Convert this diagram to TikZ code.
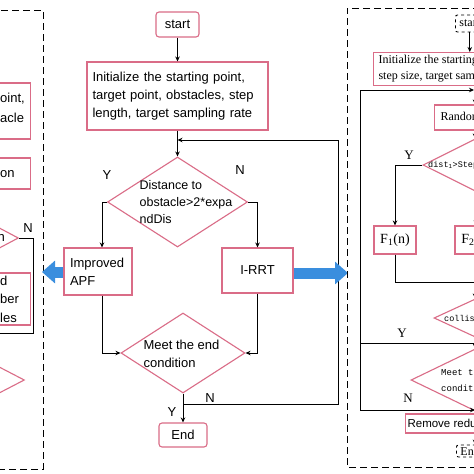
\documentclass[tikz,border=0pt]{standalone}
\usepackage{fontspec}
\setmainfont{Liberation Serif}
\setsansfont{Liberation Sans}
\setmonofont{Liberation Mono}
\usepackage{tikz}
\usetikzlibrary{arrows.meta,calc,shapes.geometric,positioning}
\tikzset{>={Stealth[length=5pt,width=4.5pt]}}
\definecolor{boxred}{RGB}{218,108,135}
\definecolor{flowblue}{RGB}{58,142,222}
\tikzset{
  pbox/.style={draw=boxred, line width=1.1pt, fill=white, inner sep=0pt, font=\sffamily\fontsize{13pt}{18pt}\selectfont},
  pdec/.style={diamond, draw=boxred, line width=1.1pt, inner sep=0pt},
  sbox/.style={draw=boxred, line width=1.1pt, inner sep=0pt, font=\fontsize{12pt}{16pt}\selectfont},
  ebox/.style={draw=black, dashed, rounded corners=2pt, line width=0.9pt, inner sep=0pt, font=\fontsize{12pt}{14pt}\selectfont},
  panel/.style={draw=black, line width=1pt, dash pattern=on 7pt off 4pt},
  flow/.style={draw=black, line width=1pt},
  yn/.style={inner sep=0pt, font=\sffamily\fontsize{13pt}{13pt}\selectfont},
  ryn/.style={inner sep=0pt, font=\fontsize{13pt}{13pt}\selectfont},
  txt/.style={inner sep=0pt, align=left},
  fat/.style={flowblue, line width=11pt, -{Triangle[length=13pt,width=22pt]}}
}
\begin{document}
\begin{tikzpicture}[x=1pt,y=-1pt]
\useasboundingbox (0,0) rectangle (474,474);
\fill[white] (0,0) rectangle (474,474);
\clip (0,0) rectangle (474,474);

% left panel, cut off by the frame
\draw[panel] (-10,10) -| (43,469) -- (-10,469);
\node[pbox, minimum width=120pt, minimum height=56pt, anchor=east] (linit) at (31,111) {};
\node[txt, anchor=west, font=\sffamily\fontsize{13pt}{20pt}\selectfont] (linittxt) at (0,108) {oint,\\acle};
\node[pbox, minimum width=120pt, minimum height=31pt, anchor=east] (lset) at (31,173.5) {};
\node[txt, anchor=west, font=\sffamily\fontsize{13pt}{13pt}\selectfont] (lsettxt) at (0,174) {on};
\node[pdec, minimum width=94pt, minimum height=50pt, anchor=east] (lcheck) at (19,238) {};
\node[txt, anchor=east, font=\sffamily\fontsize{13pt}{13pt}\selectfont] (lchecktxt) at (5,238) {n};
\node[pbox, minimum width=120pt, minimum height=52pt, anchor=east] (lcount) at (31,299) {};
\node[txt, anchor=west, font=\sffamily\fontsize{13pt}{18.5pt}\selectfont] (lcounttxt) at (0,299) {d\\ber\\les};
\node[pdec, minimum width=96pt, minimum height=50pt, anchor=east] (lend) at (25,380) {};
\coordinate (lback) at (-10,333);
\draw[flow] (lcheck.east) -- (33,238) |- (lback);
\node[yn] (ln) at (28,228) {N};

% middle flow
\node[pbox, rounded corners=3pt, minimum width=43pt, minimum height=25pt] (start) at (177.5,24.5) {start};
\node[pbox, minimum width=181pt, minimum height=68pt, text width=170pt, align=left] (init) at (177.5,96) {Initialize the starting point,\\target point, obstacles, step\\length, target sampling rate};
\node[pdec, minimum width=140pt, minimum height=90pt] (dist) at (177.5,202) {};
\node[txt, font=\sffamily\fontsize{12.5pt}{17pt}\selectfont] (disttxt) at (186,202) {Distance to\\obstacle>2*expa\\ndDis};
\node[pbox, minimum width=68pt, minimum height=47pt, text width=56pt, align=left] (apf) at (98,271.5) {Improved\\APF};
\node[pbox, minimum width=71pt, minimum height=45pt] (rrt) at (257.5,270.5) {I-RRT};
\node[pdec, minimum width=124pt, minimum height=80pt] (meet) at (183,353) {};
\node[txt, font=\sffamily\fontsize{13pt}{18pt}\selectfont] (meettxt) at (181.5,354) {Meet the end\\condition};
\node[pbox, rounded corners=3pt, minimum width=48pt, minimum height=24pt] (end) at (183,435) {End};

\draw[flow,->] (start) -- (init);
\draw[flow,->] (init) -- (dist);
\draw[flow,->] (dist.west) -| ([xshift=4pt]apf.north);
\draw[flow,->] (dist.east) -| (rrt.north);
\draw[flow,->] ([xshift=4pt]apf.south) |- (meet.west);
\draw[flow,->] (rrt.south) |- (meet.east);
\draw[flow,->] (meet) -- (end);
\coordinate (nsplit) at (183,404);
\coordinate (loopx) at (338,0);
\coordinate (back) at (177.5,140);
\draw[flow,->] (nsplit) -| (loopx |- back) -- (back);
\node[yn] (dy) at (107,175) {Y};
\node[yn] (dn) at (240,170) {N};
\node[yn] (my) at (172,412) {Y};
\node[yn] (mn) at (210,398) {N};

\coordinate (lpanel) at (42,272);
\coordinate (rpanel) at (348,273);
\draw[fat] (apf.west |- lpanel) -- (lpanel);
\draw[fat] (rrt.east |- rpanel) -- (rpanel);

% right panel, cut off by the frame
\draw[panel] (480,8) -| (347,467) -- (480,467);
\node[ebox, anchor=west, minimum height=17pt, inner xsep=4pt] (rstart) at (455,23.5) {start};
\node[sbox, anchor=north west, minimum height=33pt, inner xsep=5pt, align=left] (rinit) at (373,52) {Initialize the starting point, target point,\\step size, target sampling rate};
\node[sbox, anchor=west, minimum height=25pt, inner xsep=6pt] (rrand) at (434,117.5) {Random sampling};
\node[pdec, minimum width=104pt, minimum height=52pt] (rdist) at (475,165) {};
\node[txt, anchor=west, font=\ttfamily\fontsize{8.5pt}{10pt}\selectfont] (rdisttxt) at (428,165) {dist\textsubscript{1}>Step};
\node[sbox, minimum width=42pt, minimum height=28pt, font=\fontsize{14pt}{16pt}\selectfont] (rf1) at (395,240) {F\textsubscript{1}(n)};
\node[sbox, minimum width=42pt, minimum height=28pt, font=\fontsize{14pt}{16pt}\selectfont] (rf2) at (476,240) {F\textsubscript{2}(n)};
\node[pdec, minimum width=82pt, minimum height=38pt] (rcol) at (475,318) {};
\node[txt, anchor=west, font=\ttfamily\fontsize{8.5pt}{10pt}\selectfont] (rcoltxt) at (444,318) {collision};
\node[pdec, minimum width=128pt, minimum height=62pt] (rmeet) at (475,380) {};
\node[txt, anchor=west, font=\ttfamily\fontsize{9pt}{16pt}\selectfont] (rmeettxt) at (441,380) {Meet the end\\condition};
\node[sbox, anchor=west, minimum height=19pt, inner xsep=2pt, font=\sffamily\fontsize{11.5pt}{13pt}\selectfont] (rremove) at (405,423.5) {Remove redundant nodes};
\node[ebox, anchor=west, minimum height=12pt, inner xsep=4pt] (rend) at (456,451) {End};

\draw[flow,->] (rstart.south) -- (rstart.south |- rinit.north);
\draw[flow,->] (rdist.north |- rinit.south) -- (rdist.north |- rrand.north);
\draw[flow,->] (rdist.north |- rrand.south) -- (rdist.north);
\draw[flow,->] (rdist.west) -| (rf1.north);
\draw[flow,->] (rdist.south) -- (rf2.north);
\coordinate (rjoin) at (475,282);
\draw[flow,->] (rf1.south) |- (rjoin) -- (rcol.north);
\coordinate (rback) at (474,90);
\coordinate (rleft) at (360,410);
\coordinate (ry) at (360,343);
\draw[flow,->] (rleft) |- (rback);
\draw[flow] (rcol.south) |- (ry);
\draw[flow,->] (rcol.south) -- (rmeet.north);
\draw[flow,->] (rleft) -- (rleft -| rmeet.south);
\draw[flow,->] (rmeet.south |- rremove.south) -- (rmeet.south |- rend.north);
\node[ryn] (rdy) at (409,155) {Y};
\node[ryn] (rcy) at (402,333) {Y};
\node[ryn] (rmn) at (408,398) {N};
\end{tikzpicture}
\end{document}
